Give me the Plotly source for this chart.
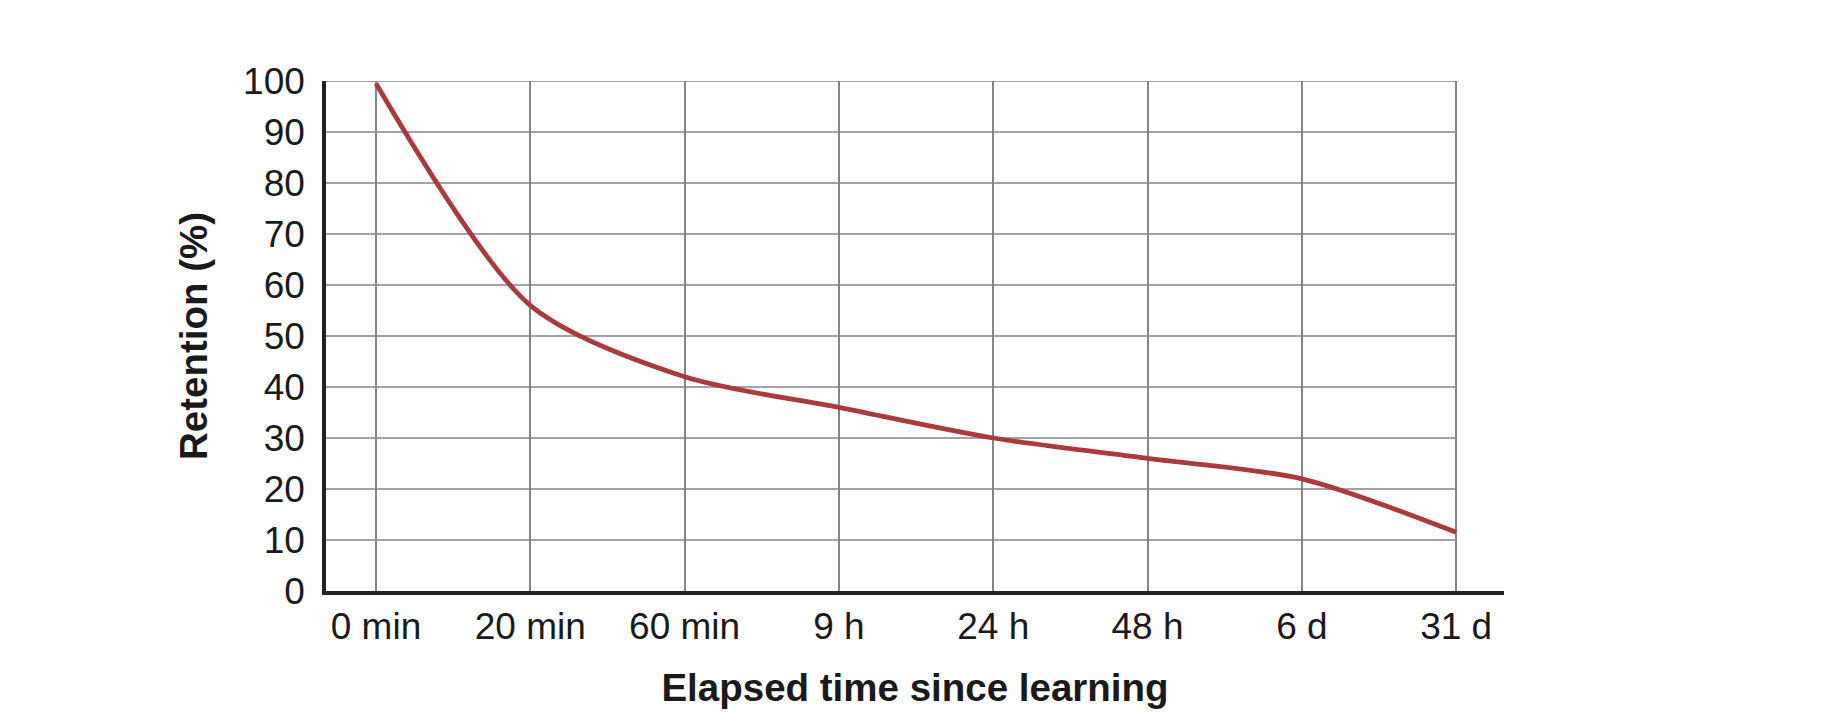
import plotly.graph_objects as go

# Data
time_labels = ["0 min", "20 min", "60 min", "9 h", "24 h", "48 h", "6 d", "31 d"]
retention = [99.5, 56, 42, 36, 30, 26, 22, 11.5]
y_ticks = [0, 10, 20, 30, 40, 50, 60, 70, 80, 90, 100]

x_pos = list(range(len(time_labels)))

FONT = "Liberation Sans, Arial, sans-serif"
TXT = "#1a1a1a"
GRID = "#858585"

X_MIN = -0.324
X_MAX = x_pos[-1] + 0.31

fig = go.Figure()
fig.add_trace(go.Scatter(
    x=x_pos, y=retention, mode="lines",
    line=dict(color="#aa3b3c", width=4.8, shape="spline", smoothing=0.8),
    hoverinfo="skip", showlegend=False,
))

# horizontal grid lines ending at the last category
for v in y_ticks[1:]:
    fig.add_shape(type="line", xref="paper", yref="y",
                  x0=0, x1=(x_pos[-1] - X_MIN) / (X_MAX - X_MIN),
                  y0=v, y1=v, line=dict(color=GRID, width=1.6), layer="below")

fig.update_layout(
    width=1822, height=728,
    margin=dict(l=318, r=326, t=73, b=145),
    paper_bgcolor="white", plot_bgcolor="white",
    font=dict(family=FONT, size=37, color=TXT),
    xaxis=dict(
        range=[X_MIN, X_MAX],
        tickmode="array", tickvals=x_pos, ticktext=time_labels,
        showgrid=True, gridcolor=GRID, gridwidth=1.6,
        showline=True, linecolor="#222222", linewidth=3.5,
        zeroline=False, ticks="", ticklabelstandoff=0,
        title=dict(text="<b>Elapsed time since learning</b>", standoff=29,
                   font=dict(family=FONT, size=38.5, color=TXT)),
        fixedrange=True,
    ),
    yaxis=dict(
        range=[0, 100],
        tickmode="array", tickvals=y_ticks,
        showgrid=False,
        showline=True, linecolor="#222222", linewidth=3.5,
        zeroline=False, ticks="", ticklabelstandoff=10,
        title=dict(text="<b>Retention (%)</b>", standoff=25,
                   font=dict(family=FONT, size=38.5, color=TXT)),
        fixedrange=True,
    ),
)

fig.write_html("out.html")
